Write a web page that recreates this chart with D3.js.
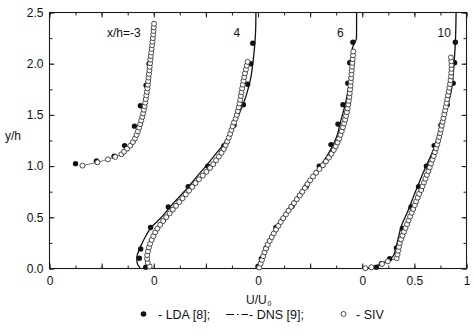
<!DOCTYPE html>
<html>
<head>
<meta charset="utf-8">
<script src="https://cdn.jsdelivr.net/npm/d3@7"></script>
<style>
  html, body { margin: 0; padding: 0; background: #fff; }
  svg { display: block; font-family: "Liberation Sans", Arial, sans-serif; }
</style>
</head>
<body>
<svg id="chart" width="474" height="336"></svg>
<script>
// Streamwise velocity profiles U/U0 versus y/h at four stations.
// Each profile is shifted along the x axis by its own offset.
const profileNames   = ["x/h=-3", "4", "6", "10"];
const profileOffsets = [-3, -2, -1, 0];

// LDA [8] measurements
const ldaY = [
  [1.024, 1.05, 1.096, 1.2, 1.39, 1.59, 1.79, 2.0],
  [0.013, 0.1, 0.19, 0.4, 0.6, 0.8, 1.0, 1.2, 1.4, 1.6, 1.8, 2.0, 2.2],
  [0.02, 0.095, 0.2, 0.4, 0.607, 0.8, 1.0, 1.21, 1.41, 1.6, 1.81, 2.01, 2.21],
  [0.013, 0.046, 0.095, 0.2, 0.39, 0.6, 0.8, 1.0, 1.2, 1.4, 1.6, 1.81, 2.01, 2.21]
];
const ldaU = [
  [0.25, 0.45, 0.62, 0.72, 0.815, 0.872, 0.927, 0.955],
  [-0.077, -0.138, -0.125, -0.03, 0.14, 0.33, 0.517, 0.674, 0.77, 0.86, 0.9, 0.93, 0.95],
  [0.0, 0.032, 0.077, 0.172, 0.326, 0.463, 0.587, 0.70, 0.767, 0.815, 0.862, 0.88, 0.91],
  [0.136, 0.184, 0.263, 0.328, 0.385, 0.468, 0.54, 0.615, 0.69, 0.755, 0.815, 0.872, 0.886, 0.893]
];

// DNS [9] profiles (none upstream of the step)
const dnsY = [
  [],
  [0.007, 0.046, 0.11, 0.17, 0.24, 0.32, 0.40, 0.486, 0.6, 0.7, 0.795, 0.9, 1.024, 1.1, 1.22, 1.38, 1.5, 1.61, 1.71, 1.87, 2.0, 2.2, 2.35, 2.5],
  [0.013, 0.1, 0.21, 0.42, 0.63, 0.81, 0.975, 1.155, 1.32, 1.41, 1.5, 1.64, 1.81, 2.0, 2.15, 2.2, 2.25, 2.5],
  [0.005, 0.02, 0.05, 0.095, 0.127, 0.2, 0.274, 0.404, 0.567, 0.75, 0.96, 1.155, 1.35, 1.55, 1.74, 1.81, 2.0, 2.2, 2.5]
];
const dnsU = [
  [],
  [-0.13, -0.157, -0.163, -0.145, -0.115, -0.075, -0.026, 0.06, 0.156, 0.245, 0.33, 0.415, 0.52, 0.58, 0.674, 0.763, 0.815, 0.86, 0.893, 0.932, 0.95, 0.97, 0.978, 0.98],
  [-0.01, 0.03, 0.07, 0.182, 0.326, 0.453, 0.58, 0.693, 0.765, 0.785, 0.81, 0.845, 0.875, 0.895, 0.905, 0.925, 0.945, 0.946],
  [0.05, 0.12, 0.19, 0.265, 0.3, 0.322, 0.34, 0.372, 0.44, 0.51, 0.595, 0.68, 0.743, 0.807, 0.855, 0.865, 0.88, 0.893, 0.90]
];

// SIV measurements
const sivY = [
  [1.005, 1.037, 1.066, 1.09, 1.115, 1.14, 1.17, 1.20, 1.235, 1.27, 1.305, 1.34, 1.375, 1.41, 1.445, 1.48, 1.515, 1.55, 1.585, 1.62, 1.655,
   1.69, 1.725, 1.76, 1.795, 1.83, 1.865, 1.90, 1.935, 1.97, 2.005, 2.04, 2.075, 2.11, 2.145, 2.18, 2.215, 2.25, 2.285, 2.32, 2.355, 2.39],
  [0.02, 0.057, 0.094, 0.131, 0.168, 0.205, 0.242, 0.279, 0.316, 0.353, 0.39, 0.427, 0.464, 0.501, 0.538, 0.575, 0.612, 0.649, 0.686,
   0.723, 0.76, 0.797, 0.834, 0.871, 0.908, 0.945, 0.982, 1.019, 1.056, 1.093, 1.13, 1.167, 1.204, 1.241, 1.278, 1.315, 1.352, 1.389,
   1.426, 1.463, 1.50, 1.537, 1.574, 1.611, 1.648, 1.685, 1.722, 1.759, 1.796, 1.833, 1.87, 1.907, 1.944, 1.981, 2.018],
  [0.010, 0.047, 0.084, 0.121, 0.158, 0.195, 0.232, 0.269, 0.306, 0.343, 0.380, 0.417, 0.454, 0.491, 0.528, 0.565, 0.602, 0.639, 0.676,
   0.713, 0.750, 0.787, 0.824, 0.861, 0.898, 0.935, 0.972, 1.009, 1.046, 1.083, 1.120, 1.157, 1.194, 1.231, 1.268, 1.305, 1.342, 1.379,
   1.416, 1.453, 1.490, 1.527, 1.564, 1.601, 1.638, 1.675, 1.712, 1.749, 1.786, 1.823, 1.860, 1.897, 1.934, 1.971, 2.008, 2.045, 2.082, 2.119],
  [0.003, 0.012, 0.045, 0.07, 0.1, 0.137, 0.174, 0.211, 0.248, 0.285, 0.322, 0.359, 0.396, 0.433, 0.470, 0.507, 0.544, 0.581, 0.618, 0.655,
   0.692, 0.729, 0.766, 0.803, 0.840, 0.877, 0.914, 0.951, 0.988, 1.025, 1.062, 1.099, 1.136, 1.173, 1.210, 1.247, 1.284, 1.321,
   1.358, 1.395, 1.432, 1.469, 1.506, 1.543, 1.580, 1.617, 1.654, 1.691, 1.728, 1.765, 1.802, 1.839, 1.876, 1.913, 1.950, 1.987, 2.024, 2.061]
];
const sivU = [
  [0.316, 0.46, 0.56, 0.63, 0.69, 0.715, 0.745, 0.775, 0.80, 0.82, 0.835, 0.848, 0.86, 0.87, 0.88, 0.89, 0.898, 0.906, 0.912, 0.918, 0.924,
   0.929, 0.934, 0.939, 0.943, 0.947, 0.95, 0.954, 0.958, 0.961, 0.965, 0.968, 0.972, 0.976, 0.98, 0.984, 0.988, 0.992, 0.995, 0.998, 1.0, 1.003],
  [-0.04, -0.058, -0.064, -0.063, -0.055, -0.046, -0.035, -0.02, -0.004, 0.014, 0.035, 0.062, 0.09, 0.12, 0.152, 0.183, 0.214, 0.245, 0.276,
   0.307, 0.338, 0.369, 0.40, 0.433, 0.47, 0.505, 0.54, 0.57, 0.598, 0.625, 0.65, 0.672, 0.69, 0.705, 0.72, 0.733, 0.745, 0.757,
   0.77, 0.785, 0.797, 0.806, 0.815, 0.823, 0.83, 0.836, 0.842, 0.848, 0.854, 0.861, 0.868, 0.876, 0.884, 0.892, 0.90],
  [0.012, 0.025, 0.038, 0.05, 0.062, 0.077, 0.093, 0.112, 0.132, 0.152, 0.173, 0.195, 0.218, 0.242, 0.268, 0.293, 0.318, 0.345, 0.372,
   0.40, 0.425, 0.45, 0.474, 0.50, 0.528, 0.558, 0.59, 0.622, 0.652, 0.68, 0.705, 0.727, 0.746, 0.763, 0.778, 0.791, 0.803, 0.815,
   0.826, 0.836, 0.845, 0.853, 0.86, 0.866, 0.871, 0.876, 0.88, 0.884, 0.887, 0.89, 0.893, 0.896, 0.899, 0.902, 0.905, 0.908, 0.911, 0.914],
  [0.03, 0.088, 0.19, 0.245, 0.33, 0.338, 0.345, 0.352, 0.36, 0.372, 0.386, 0.40, 0.415, 0.43, 0.444, 0.459, 0.474, 0.489, 0.504, 0.518,
   0.532, 0.546, 0.565, 0.578, 0.592, 0.606, 0.62, 0.634, 0.647, 0.66, 0.673, 0.685, 0.697, 0.708, 0.719, 0.729, 0.738, 0.747,
   0.755, 0.763, 0.771, 0.779, 0.787, 0.795, 0.802, 0.809, 0.816, 0.822, 0.829, 0.836, 0.842, 0.847, 0.851, 0.854, 0.856, 0.856, 0.854, 0.85]
];

// Axis ticks and labels
const xMinorTicks = [-3, -2.75, -2.5, -2.25, -2, -1.75, -1.5, -1.25, -1, -0.75, -0.5, -0.25, 0, 0.25, 0.5, 0.75, 1];
const xMajorTicks = [-3, -2.5, -2, -1.5, -1, -0.5, 0, 0.5, 1];
const xLabelPos   = [-3, -2, -1, 0, 0.5, 1];
const xLabelText  = ["0", "0", "0", "0", "0.5", "1"];
const yMinorTicks = [0, 0.25, 0.5, 0.75, 1, 1.25, 1.5, 1.75, 2, 2.25, 2.5];
const yMajorTicks = [0, 0.5, 1, 1.5, 2, 2.5];

const svg = d3.select("#chart");
const x = d3.scaleLinear().domain([-3, 1]).range([49.5, 466.5]);
const y = d3.scaleLinear().domain([0, 2.5]).range([268.5, 12.5]);
const axisColor = "#1a1a1a";

function styleAxis(g) {
  g.select(".domain").remove();
  g.selectAll(".tick line").attr("stroke", axisColor).attr("stroke-width", 1);
  g.selectAll(".tick text").attr("fill", "#111").attr("font-size", 12)
    .attr("font-family", "'Liberation Sans', Arial, sans-serif");
}
const labelFor = d => {
  const i = xLabelPos.indexOf(d);
  return i >= 0 ? xLabelText[i] : "";
};

// bottom
svg.append("g").attr("transform", `translate(0,${y(0)})`)
  .call(d3.axisBottom(x).tickValues(xMinorTicks).tickSizeInner(-3).tickSizeOuter(0).tickFormat(""))
  .call(styleAxis);
svg.append("g").attr("transform", `translate(0,${y(0)})`)
  .call(d3.axisBottom(x).tickValues(xMajorTicks).tickSizeInner(-5).tickSizeOuter(0).tickPadding(8).tickFormat(labelFor))
  .call(styleAxis);
// top
svg.append("g").attr("transform", `translate(0,${y(2.5)})`)
  .call(d3.axisTop(x).tickValues(xMinorTicks).tickSizeInner(-3).tickSizeOuter(0).tickFormat(""))
  .call(styleAxis);
svg.append("g").attr("transform", `translate(0,${y(2.5)})`)
  .call(d3.axisTop(x).tickValues(xMajorTicks).tickSizeInner(-5).tickSizeOuter(0).tickFormat(""))
  .call(styleAxis);
// left
svg.append("g").attr("transform", `translate(${x(-3)},0)`)
  .call(d3.axisLeft(y).tickValues(yMinorTicks).tickSizeInner(-3).tickSizeOuter(0).tickFormat(""))
  .call(styleAxis);
svg.append("g").attr("transform", `translate(${x(-3)},0)`)
  .call(d3.axisLeft(y).tickValues(yMajorTicks).tickSizeInner(-5).tickSizeOuter(0).tickPadding(6).tickFormat(d3.format(".1f")))
  .call(styleAxis);
// right
svg.append("g").attr("transform", `translate(${x(1)},0)`)
  .call(d3.axisRight(y).tickValues(yMinorTicks).tickSizeInner(-3).tickSizeOuter(0).tickFormat(""))
  .call(styleAxis);
svg.append("g").attr("transform", `translate(${x(1)},0)`)
  .call(d3.axisRight(y).tickValues(yMajorTicks).tickSizeInner(-5).tickSizeOuter(0).tickFormat(""))
  .call(styleAxis);

// frame
svg.append("rect")
  .attr("x", x(-3)).attr("y", y(2.5))
  .attr("width", x(1) - x(-3)).attr("height", y(0) - y(2.5))
  .attr("fill", "none").attr("stroke", axisColor).attr("stroke-width", 1.1);

// axis titles
svg.append("text").attr("x", 5).attr("y", 140).attr("font-size", 12).attr("fill", "#111").text("y/h");
svg.append("text").attr("x", 246).attr("y", 303.5).attr("font-size", 12).attr("fill", "#111").text("U/U");
svg.append("text").attr("x", 267.5).attr("y", 305.5).attr("font-size", 7).attr("fill", "#111").text("0");

const plot = svg.append("g");
const lineDns = d3.line().curve(d3.curveMonotoneY);
const lineSiv = d3.line();

profileNames.forEach((name, p) => {
  const off = profileOffsets[p];
  // DNS
  if (dnsY[p].length) {
    const pts = dnsY[p].map((yy, i) => [x(dnsU[p][i] + off), y(yy)]);
    plot.append("path").attr("d", lineDns(pts))
      .attr("fill", "none").attr("stroke", "#111").attr("stroke-width", 1.3);
  }
  // thin line joining SIV points
  const sp = sivY[p].map((yy, i) => [x(sivU[p][i] + off), y(yy)]);
  plot.append("path").attr("d", lineSiv(sp))
    .attr("fill", "none").attr("stroke", "#444").attr("stroke-width", 0.7);
});

profileNames.forEach((name, p) => {
  const off = profileOffsets[p];
  plot.append("g").selectAll("circle")
    .data(ldaY[p].map((yy, i) => ({ y: yy, u: ldaU[p][i] })))
    .join("circle")
    .attr("cx", d => x(d.u + off)).attr("cy", d => y(d.y))
    .attr("r", 2.7).attr("fill", "#111");
});

profileNames.forEach((name, p) => {
  const off = profileOffsets[p];
  plot.append("g").selectAll("circle")
    .data(sivY[p].map((yy, i) => ({ y: yy, u: sivU[p][i] })))
    .join("circle")
    .attr("cx", d => x(d.u + off)).attr("cy", d => y(d.y))
    .attr("r", 2.5).attr("fill", "#fff").attr("stroke", "#2a2a2a").attr("stroke-width", 0.85);
});

// station labels
const labelX = [107, 233.5, 337, 437.5];
profileNames.forEach((name, p) => {
  svg.append("text").attr("x", labelX[p]).attr("y", 37)
    .attr("font-size", 12).attr("fill", "#111").text(name);
});

// legend
const lg = svg.append("g").attr("font-size", 12.5).attr("fill", "#111");
lg.append("circle").attr("cx", 143.5).attr("cy", 314).attr("r", 2.8).attr("fill", "#111");
lg.append("text").attr("x", 158).attr("y", 319).text("- LDA [8];");
lg.append("path").attr("d", "M226,314.5H248")
  .attr("stroke", "#111").attr("stroke-width", 1.2).attr("stroke-dasharray", "8,3,1.5,3,8");
lg.append("text").attr("x", 249).attr("y", 319).text("- DNS [9];");
lg.append("circle").attr("cx", 343.5).attr("cy", 314).attr("r", 2.5)
  .attr("fill", "#fff").attr("stroke", "#2a2a2a").attr("stroke-width", 0.85);
lg.append("text").attr("x", 356).attr("y", 319).text("- SIV");
</script>
</body>
</html>
